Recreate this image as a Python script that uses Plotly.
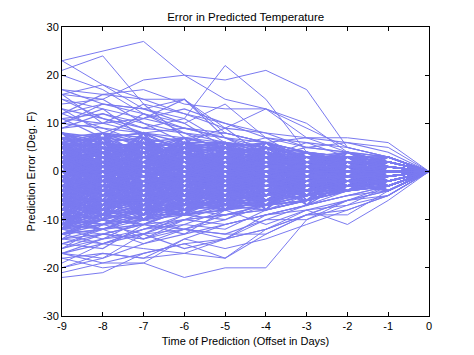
import plotly.graph_objects as go

days = [-9, -8, -7, -6, -5, -4, -3, -2, -1, 0]
x_ticks = [-9, -8, -7, -6, -5, -4, -3, -2, -1, 0]
y_ticks = [-30, -20, -10, 0, 10, 20, 30]

# Prediction errors (deg F) at offsets -9 .. -1; error is 0 at offset 0
outlier_errors = [
    [23, 25, 27, 20, 15, 13, 9, 5, 3],
    [21, 24, 14, 12, 10, 8, 7, 7, 6],
    [16, 15, 19, 20, 19, 21, 17, 5, 3],
    [12, 14, 13, 11, 22, 15, 4, 2, 1],
    [23, 18, 15, 15, 8, 6, 4, 3, 2],
    [17, 16, 17, 14, 13, 13, 7, 4, 3],
    [16, 18, 13, 15, 9, 13, 10, 4, 2],
    [20, 17, 12, 10, 14, 7, 5, 6, 5],
    [-22, -21, -17, -15, -14, -12, -9, -6, -4],
    [-21, -19, -19, -22, -20, -20, -10, -7, -3],
    [-20, -17, -18, -17, -18, -12, -8, -11, -6],
    [-18, -20, -19, -14, -16, -14, -11, -8, -5],
    [-19, -15, -16, -17, -14, -10, -10, -6, -5],
    [-17, -18, -13, -12, -13, -13, -9, -9, -4],
]

mid_errors = [
    [12, 9, 6, 3, 5, 2, 4, 1, 0],
    [15, 11, 8, 4, 1, 3, 0, -1, 2],
    [-15, -12, -9, -6, -4, -5, -3, -2, -1],
    [-14, -9, -11, -7, -3, -6, -2, -3, -2],
    [10, 13, 7, 5, 2, 6, 3, 2, 1],
    [17, 14, 12, 9, 7, 4, 2, 3, 1],
    [-17, -14, -10, -8, -9, -7, -5, -4, -3],
    [-13, -15, -12, -9, -10, -6, -4, -2, -4],
    [11, 7, 12, 8, 4, 5, 1, 0, -1],
    [14, 15, 10, 6, 9, 3, 5, 4, 2],
    [-16, -11, -13, -10, -7, -8, -6, -3, -1],
    [9, 12, 9, 11, 6, 2, 3, 1, 2],
    [-18, -17, -18, -14, -11, -9, -7, -5, -3],
    [16, 10, 14, 7, 8, 6, 4, 2, 3],
    [-13, -10, -14, -11, -12, -8, -6, -4, -2],
    [13, 8, 11, 15, 7, 3, 6, 3, 1],
    [-15, -16, -11, -12, -13, -10, -7, -5, -4],
    [10, 14, 13, 10, 5, 7, 2, 1, 0],
    [-14, -12, -15, -13, -8, -11, -8, -6, -3],
    [12, 16, 15, 12, 9, 8, 5, 4, 2],
    [-12, -14, -13, -16, -14, -9, -8, -7, -5],
    [15, 13, 11, 13, 10, 7, 6, 5, 3],
    [-20, -18, -15, -12, -14, -12, -9, -6, -4],
    [11, 10, 8, 9, 8, 6, 7, 6, 4],
    [-17, -19, -17, -15, -18, -13, -9, -8, -5],
    [-14, -13, -11, -10, -9, -7, -6, -4, -2],
    [-16, -14, -12, -11, -8, -6, -5, -3, -2],
    [-15, -13, -14, -10, -9, -8, -5, -4, -3],
    [-13, -12, -10, -12, -10, -7, -4, -3, -1],
    [-17, -15, -13, -9, -7, -6, -4, -2, -1],
    [-14, -15, -12, -10, -11, -9, -7, -5, -3],
    [-12, -13, -14, -12, -9, -8, -6, -3, -2],
    [-16, -13, -11, -13, -11, -9, -7, -4, -2],
    [10, 9, 8, 7, 6, 5, 3, 2, 1],
    [11, 12, 10, 8, 7, 5, 4, 3, 2],
    [9, 10, 11, 9, 7, 6, 4, 3, 2],
    [13, 11, 9, 8, 6, 5, 3, 2, 1],
]

core_errors_a = [
    [-3, 2, -5, 4, -1, 3, -2, 1, 0],
    [5, -2, 6, -4, 2, -3, 1, -1, 2],
    [-10, -4, -8, 1, -6, 2, -3, 3, -2],
    [7, 3, -1, 5, -3, 4, 0, 2, -1],
    [-6, -9, -2, -7, 3, -5, 2, -3, 1],
    [2, 6, 1, -3, 5, -1, 3, -2, -3],
    [-12, -7, -3, -8, -2, -6, -4, -1, 0],
    [0, -5, 4, 2, -6, 1, -2, 4, 2],
    [4, 8, 3, 6, 1, -2, 4, 1, -1],
    [-8, -1, -9, -4, -7, 0, -5, -2, -4],
    [1, -3, 7, -1, 4, 6, -1, 3, 1],
    [-5, 3, -6, -9, -3, -7, 1, -4, -2],
    [6, 0, 2, 7, -2, 2, -3, 0, 3],
    [-11, -6, -10, -5, -8, -4, -6, -3, -1],
    [3, -7, 5, 0, 6, -8, 2, -1, 0],
    [-2, 5, -4, 3, -5, 5, -7, 2, -3],
    [8, 4, 0, -6, 2, -1, 1, 4, 2],
    [-9, -10, -7, -2, -4, -3, 0, -4, 1],
    [-1, 1, 8, 4, 0, 3, 2, -2, -1],
    [-7, -2, -1, -8, -6, -5, -4, 0, -2],
    [5, 7, -3, 1, 3, 0, 3, 3, 3],
    [-4, -8, 2, -5, 1, -2, -5, -3, -4],
    [2, -1, -6, 6, -7, 4, -1, 1, 1],
    [-12, -3, -5, -1, -8, -6, -2, -2, 0],
    [0, 6, 4, -7, 5, 1, 4, -1, -1],
    [-6, 2, -9, 3, -2, -4, 1, 2, 2],
    [7, -4, 1, -2, 4, 3, -3, -4, -3],
    [-3, -9, -4, 5, -4, 6, 0, 0, 1],
    [4, 3, 6, -3, 0, -7, -2, 3, -2],
    [-10, 0, -2, -6, 2, 2, -6, -1, 0],
    [1, -6, 3, 1, -5, -1, 2, 4, 3],
    [-5, 4, -7, -4, 6, -3, -4, -3, -1],
    [3, 1, 0, 7, -3, 5, 1, 2, 2],
    [-8, -5, -1, -9, -1, -8, -1, -2, -4],
    [6, -3, 7, 2, 3, 0, 4, 0, 1],
    [-2, 7, -5, 0, -6, 4, -5, -1, -2],
    [-11, -8, -6, 4, -2, 1, 3, 1, 0],
    [0, 2, 5, -5, 1, -6, -3, -3, -3],
    [5, -1, -8, 3, -8, -2, 2, 3, 2],
    [-7, -7, 1, -1, 5, -5, -2, -4, -1],
    [-4, 0, -10, -3, -1, 3, -4, 1, -2],
    [8, 5, 4, 1, -4, -3, 1, -2, 0],
    [-1, -10, -2, -7, 4, 0, -1, 2, -3],
    [3, 4, -7, 5, -7, 5, 3, -1, 1],
    [-9, -3, 6, -2, 0, -4, -6, 0, 2],
    [2, -8, -4, 2, -3, 1, 0, 3, -1],
    [-6, 6, 0, -6, 3, -7, 2, -3, 0],
    [6, -6, 3, 0, -5, 2, -2, 1, -4],
    [-12, -1, -9, -3, 1, -1, -3, -4, -2],
    [1, 8, -3, 6, -2, 6, 4, 2, 3],
    [-3, -4, 8, -8, 2, -5, -1, -2, 1],
    [4, -9, 2, 4, -6, 3, -5, 4, 0],
    [-8, 3, -5, -5, 5, -2, 1, -1, -3],
    [0, -2, 6, 1, -4, 0, -4, 0, 2],
    [-5, 1, -6, 3, -8, 4, 2, 1, -1],
    [7, -5, 2, -2, 0, -6, -1, -3, 1],
    [-10, 5, -1, -7, 4, 1, 3, 2, -2],
    [2, -7, 4, 7, -1, -3, -2, -1, 0],
    [-7, 0, -8, -1, -5, 5, 0, 3, 1],
    [5, 2, 1, -9, 6, -1, -7, -2, -1],
    [-1, -6, 7, 2, -2, 2, 4, 0, -3],
    [-11, 4, -3, -4, 3, -8, 1, -4, 0],
    [3, -3, -9, 5, -3, 3, -3, 2, 2],
    [-4, 7, 0, -6, 1, -2, -1, 1, -1],
    [6, -10, 5, 0, -7, 0, 2, -3, 0],
    [-9, 1, -4, 6, 0, 4, -4, 3, 3],
    [0, 5, 3, -3, 5, -5, 0, -1, -2],
    [-2, -4, -7, 1, -4, 2, 3, 4, 1],
    [4, 0, 8, -5, 2, -4, -2, -2, -1],
    [-6, -8, 2, 3, -6, 6, 1, 0, 0],
    [8, 2, -2, -1, 4, -1, -5, 2, 2],
    [-12, -5, -6, -8, -1, -3, 0, -3, -2],
    [1, 7, 1, 4, -8, 1, 2, 1, -4],
    [-3, -2, -10, -2, 3, -6, -1, -1, 1],
    [5, -8, 6, 2, -2, 5, 3, 3, 0],
    [-8, 2, -3, -6, 6, -2, -3, -4, -1],
    [2, -1, 4, 5, -5, 3, 4, 0, 2],
    [-5, 6, -8, -1, 0, -7, -2, 2, -3],
    [7, -2, 0, 3, 3, 0, 1, -2, 3],
    [-10, -9, 5, -4, -3, 4, -6, 1, 0],
    [0, 3, -5, 0, 1, -5, 0, -1, -2],
    [-7, -6, 3, 6, -7, 2, 2, 4, 1],
    [3, 5, -1, -7, 4, -2, -4, -3, -1],
    [-2, -3, 7, 1, -3, 1, 3, 0, 0],
    [6, 1, -6, -2, 2, -4, -1, 2, 2],
    [-11, -10, -4, 3, -1, 5, 0, -2, -3],
    [1, 4, 2, -4, 5, -1, 1, 1, 1],
    [-4, -7, -2, 5, -6, 3, -3, -1, -1],
    [4, 6, 5, -1, 0, -3, 2, 3, 0],
    [-6, -1, -7, 0, 3, -5, -2, -3, 2],
    [2, 8, 0, -5, -2, 0, -5, 2, -2],
    [-9, -4, 4, 2, 1, 2, 4, -1, 1],
    [5, 0, -4, -8, -4, -6, -1, 0, -1],
    [-1, -5, 1, 6, 5, 1, 1, 1, 3],
    [-12, 2, -10, -2, -5, -2, -4, -2, -4],
    [7, -4, 3, 4, 2, 4, 0, 3, 0],
    [-3, 4, -1, -3, -1, -1, -3, -4, 1],
    [0, -8, 6, 1, 3, 6, 2, 0, -2],
    [-7, 7, -5, -6, -4, -3, 0, 2, 0],
    [3, -2, 2, 7, 0, 0, -2, -1, 2],
    [-5, -3, -9, -1, 4, -4, 3, 1, -1],
    [8, 1, 4, 0, -3, 2, -1, -2, 1],
    [-10, -7, 0, -4, -7, -1, -4, 0, -3],
    [1, 5, -6, 3, 2, 3, 1, 3, 0],
    [-8, -2, 7, -7, -2, -7, -3, -3, 2],
    [4, -5, -3, 5, 6, 1, 4, 1, -1],
    [-2, 3, -8, -5, -5, 0, -5, -1, 0],
    [6, 0, 1, 2, 1, -5, 2, 2, 1],
    [-11, -6, -7, -9, 0, -2, -2, -4, -2],
    [0, 2, 8, 0, -3, 5, 0, 0, 0],
]

core_errors_b = [
    [-2, -1, 0, -1, 1, 0, 1, 0, 0],
    [3, 4, 2, 3, 1, 2, 0, 1, 1],
    [-8, -7, -6, -5, -4, -3, -3, -2, -1],
    [6, 5, 5, 4, 3, 3, 2, 2, 1],
    [-5, -6, -4, -4, -3, -4, -2, -1, -2],
    [1, 2, 3, 2, 2, 1, 1, 0, 1],
    [-11, -9, -8, -7, -6, -5, -4, -3, -2],
    [0, -1, -2, -3, -2, -1, -2, -1, 0],
    [4, 3, 5, 6, 4, 3, 3, 2, 2],
    [-7, -8, -9, -7, -6, -6, -4, -3, -2],
    [2, 0, 1, -1, 0, 1, 0, 1, 1],
    [-4, -3, -5, -6, -5, -3, -2, -2, -3],
    [7, 6, 4, 5, 5, 4, 3, 3, 2],
    [-13, -11, -10, -9, -8, -7, -5, -4, -3],
    [-1, 1, 2, 0, -1, -2, -1, 0, -1],
    [5, 4, 6, 3, 2, 1, 2, 1, 0],
    [-9, -6, -7, -8, -5, -4, -5, -3, -2],
    [3, 1, -1, 1, 3, 2, 1, -1, 0],
    [-6, -4, -3, -2, -4, -3, -1, -2, -1],
    [8, 7, 6, 5, 4, 5, 3, 2, 2],
    [-3, -5, -6, -4, -2, -1, -3, -2, 0],
    [0, 2, 1, 3, 2, 0, -1, 0, 1],
    [-10, -11, -9, -6, -7, -6, -5, -4, -3],
    [4, 6, 7, 5, 3, 4, 2, 3, 2],
    [-5, -2, -1, -3, -5, -5, -3, -1, -1],
    [1, -1, -3, -2, 0, -1, 1, 2, 0],
    [-12, -10, -11, -8, -6, -7, -6, -3, -2],
    [6, 3, 2, 4, 5, 2, 0, 1, 1],
    [-2, -3, -1, 1, -1, -2, -2, -1, -1],
    [2, 5, 4, 2, 1, 3, 2, 0, -1],
    [-8, -5, -4, -6, -7, -5, -3, -2, -2],
    [-1, 0, -1, -2, -3, -1, 0, 1, 0],
    [5, 7, 8, 6, 4, 2, 3, 2, 1],
    [-6, -7, -5, -3, -2, -4, -4, -3, -1],
    [3, 2, 0, -1, 1, 1, 2, 1, 2],
    [-11, -12, -9, -9, -8, -6, -4, -4, -2],
    [0, -2, -4, -5, -3, -2, -1, -2, 0],
    [7, 4, 3, 1, 2, 3, 1, 0, 0],
    [-4, -1, 0, 2, 0, -1, -2, 0, -1],
    [-9, -8, -10, -8, -7, -8, -6, -4, -3],
    [1, 3, 5, 4, 5, 4, 2, 1, 1],
    [-3, -6, -7, -7, -4, -3, -1, -1, -2],
    [5, 2, 1, 0, -1, 0, 1, 2, 1],
    [-7, -4, -2, -1, -3, -4, -2, -3, -1],
    [2, 1, 3, 5, 6, 3, 4, 2, 2],
    [-13, -9, -7, -5, -6, -3, -3, -2, -1],
    [-1, -3, -2, 0, 1, 2, 0, -1, 0],
    [6, 8, 5, 2, 0, 1, -1, 0, 1],
    [-5, -7, -8, -6, -8, -6, -5, -3, -2],
    [0, 1, -1, -4, -2, 0, 1, 1, 0],
    [-10, -7, -5, -4, -2, -2, -1, 0, -1],
    [4, 2, 0, 2, 3, 5, 3, 1, 2],
    [-2, 0, 3, 1, -2, -3, -4, -2, -1],
    [-8, -10, -8, -9, -5, -5, -3, -1, -1],
    [3, 6, 3, 0, -2, -1, 0, 2, 1],
    [-6, -3, -4, -5, -1, 0, -1, -2, -3],
    [8, 5, 2, 3, 1, -1, -2, -1, 0],
    [-3, -2, -3, -1, 2, 1, 2, 1, 0],
    [-12, -8, -6, -7, -4, -5, -2, -3, -2],
    [1, 4, 6, 7, 5, 6, 3, 3, 2],
    [-4, -5, -2, -3, -6, -7, -5, -4, -2],
    [5, 3, 4, 1, -1, -3, -1, 0, 1],
    [-7, -9, -6, -2, -3, -1, 0, -1, 0],
    [0, 3, 2, 4, 2, 1, 3, 2, 1],
    [-9, -5, -3, -4, -5, -6, -3, -2, -1],
    [2, -2, -4, -3, -1, -2, -3, -1, -2],
    [7, 8, 7, 3, 2, 3, 1, 1, 0],
    [-1, -4, -6, -8, -6, -4, -2, -1, -1],
    [4, 1, 2, 3, 4, 2, 0, -2, -1],
    [-11, -7, -4, -3, -1, -3, -2, -2, 0],
    [-5, -1, 1, -1, -2, 0, 0, 1, 1],
    [3, 5, 6, 4, 6, 5, 4, 3, 2],
    [-8, -9, -7, -9, -7, -7, -6, -4, -3],
    [1, -2, 0, 2, 1, 3, 1, 0, -1],
    [-13, -12, -11, -8, -7, -4, -5, -3, -2],
    [6, 4, 1, -2, -3, -2, 0, 1, 0],
    [-2, 1, 4, 2, 3, 1, -1, -2, -1],
    [-6, -6, -8, -5, -3, -2, -3, -1, -2],
    [0, 0, 2, 1, -1, -3, -2, 0, 1],
    [-10, -8, -5, -7, -8, -5, -4, -2, -1],
    [5, 6, 3, 5, 3, 0, 2, 1, 1],
    [-4, -2, -4, -2, 0, 2, 1, 0, 0],
    [2, -1, -2, -4, -4, -3, -1, -2, -1],
    [-7, -3, -1, 0, -2, -1, -2, -1, -1],
    [8, 6, 5, 7, 5, 3, 2, 1, 1],
    [-1, 2, 0, -2, -4, -5, -3, -2, 0],
    [-12, -9, -10, -6, -3, -4, -3, -1, -1],
    [3, 0, -2, 0, 2, 4, 2, 2, 1],
    [-3, -7, -5, -7, -5, -6, -4, -3, -2],
    [4, 5, 2, 1, 3, 1, -1, 0, 0],
    [-9, -11, -8, -4, -4, -2, -1, -1, 0],
    [1, -3, -1, 3, 4, 2, 3, 2, 1],
    [-5, -4, -6, -2, 1, -1, -2, -3, -1],
    [7, 3, 0, 1, -1, 0, 1, 0, 1],
    [-6, -9, -10, -7, -5, -3, -2, -1, -2],
    [0, 4, 5, 2, 0, -2, -1, 1, 0],
    [-11, -6, -6, -4, -6, -7, -4, -3, -2],
    [2, 2, -1, -2, 0, 1, 2, 3, 2],
    [-2, -6, -3, -5, -2, 0, -1, 0, -1],
    [6, 7, 4, 2, 4, 4, 1, 0, 0],
    [-8, -3, -2, -3, -4, -2, 0, -1, 1],
    [-4, -8, -9, -6, -4, -5, -3, -2, -1],
    [3, 0, 1, 6, 3, 1, 0, -1, 0],
    [-13, -10, -8, -8, -5, -4, -2, -2, -1],
    [1, 3, 0, -1, -3, -4, -2, -1, -2],
    [-7, -5, -1, 2, 1, 0, -1, 1, 0],
    [5, 1, -1, 0, 2, 3, 3, 2, 1],
    [-10, -12, -9, -7, -6, -4, -3, -3, -1],
    [0, -4, -3, -1, 0, -2, -1, 0, 0],
    [4, 7, 8, 4, 1, 2, 2, 1, 0],
    [-3, -1, -4, -7, -7, -5, -3, -2, -2],
    [-9, -7, -3, -1, 0, 1, 0, 0, 1],
    [2, 4, 1, 0, -2, -1, 0, -1, -1],
    [-6, -8, -4, -6, -2, -3, -4, -2, -1],
    [7, 5, 3, 6, 6, 4, 2, 2, 1],
    [-12, -11, -7, -5, -4, -6, -4, -2, -2],
    [-1, 1, -1, -3, -1, 1, 2, 1, 0],
    [3, -1, 2, 4, 1, -1, -2, -1, 0],
    [-5, -9, -7, -4, -6, -4, -2, -2, -1],
    [5, 8, 6, 3, 0, 1, 1, 1, 1],
]

final_error = 0
line_color = "rgb(122,122,240)"

fig = go.Figure()
for group, width in ((core_errors_a + core_errors_b, 1.5), (mid_errors, 1.1), (outlier_errors, 1.0)):
    for series in group:
        fig.add_trace(go.Scatter(
            x=days, y=series + [final_error], mode="lines",
            line=dict(color=line_color, width=width),
            showlegend=False, hoverinfo="skip",
        ))

# The page body adds an 8px offset, so the figure is drawn 8px smaller
font_family = "Liberation Sans, Arial, Helvetica, sans-serif"
fig.update_layout(
    width=466, height=347,
    margin=dict(l=54, r=45, t=19, b=39),
    paper_bgcolor="white", plot_bgcolor="white",
    font=dict(family=font_family, size=11, color="black"),
    title=dict(text="Error in Predicted Temperature", x=0.51, xanchor="center",
               y=0.975, yanchor="middle", yref="container",
               font=dict(family=font_family, size=11.5, color="black")),
    showlegend=False,
)
fig.update_xaxes(
    range=[-9, 0], tickvals=x_ticks, ticktext=[str(v) for v in x_ticks],
    showgrid=False, zeroline=False, showline=True, linecolor="black", linewidth=1,
    mirror="ticks", ticks="inside", ticklen=4, tickcolor="black",
    tickfont=dict(family=font_family, size=11, color="black"), automargin=False,
    title=dict(text="Time of Prediction (Offset in Days)", standoff=6,
               font=dict(family=font_family, size=11, color="black")),
)
fig.update_yaxes(
    range=[-30, 30], tickvals=y_ticks, ticktext=[str(v) for v in y_ticks],
    showgrid=False, zeroline=False, showline=True, linecolor="black", linewidth=1,
    mirror="ticks", ticks="inside", ticklen=4, tickcolor="black",
    tickfont=dict(family=font_family, size=11, color="black"), automargin=False,
    title=dict(text="Prediction Error (Deg. F)", standoff=5,
               font=dict(family=font_family, size=11, color="black")),
)

fig.write_html("out.html")
